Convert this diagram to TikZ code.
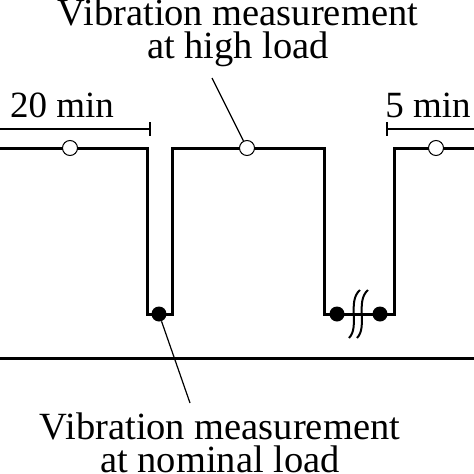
\documentclass[tikz,border=0pt]{standalone}
\usepackage{fontspec}
\setmainfont{Liberation Serif}
\usepackage{tikz}

\tikzset{
  signal/.style={line width=3pt},
  dimline/.style={line width=1.4pt},
  openpt/.style={shape=circle,draw=black,fill=white,line width=1pt,minimum size=15pt,inner sep=0pt},
  fullpt/.style={shape=circle,fill=black,minimum size=15pt,inner sep=0pt},
  lbl/.style={font=\fontsize{38.5}{33}\selectfont,inner sep=0pt,align=center,anchor=base},
  timelbl/.style={font=\fontsize{37}{37}\selectfont,inner sep=0pt,anchor=base}
}

\begin{document}
\begin{tikzpicture}[x=1pt,y=-1pt]
        \useasboundingbox (0,0) rectangle (474,474);

        % load signal
        \draw[signal] (0,148) -| (147,314) -| (172,148) -| (324,314) -| (394,148) -- (474,148);
        \draw[signal] (0,358) -- (474,358);

        % break mark
        \draw[line width=2pt] (349,338) .. controls (360,327) and (347,301) .. (360,290);
        \draw[line width=2pt] (357,338) .. controls (368,327) and (355,301) .. (368,290);

        % measuring points
        \node[openpt] (H1) at (70,148) {};
        \node[openpt] (H2) at (247,148) {};
        \node[openpt] (H3) at (436,148) {};
        \node[fullpt] (N1) at (159,314) {};
        \node[fullpt] (N2) at (337,314) {};
        \node[fullpt] (N3) at (380,314) {};

        % durations
        \draw[dimline] (0,129) -- (150,129);
        \draw[dimline] (150,122) -- (150,136);
        \draw[dimline] (387,129) -- (474,129);
        \draw[dimline] (387,122) -- (387,136);
        \node[timelbl] (T1) at (62,117) {20 min};
        \node[timelbl] (T2) at (428,117) {5 min};

        % labels
        \node[lbl] (HL) at (238,58) {Vibration measurement\\at high load};
        \node[lbl] (NL) at (220,472) {Vibration measurement\\at nominal load};
        \coordinate (HT) at (212,78);
        \coordinate (NT) at (190,403);
        \draw[line width=1.2pt] (H2) -- (HT);
        \draw[line width=1.2pt] (N1) -- (NT);
    \end{tikzpicture}
\end{document}
